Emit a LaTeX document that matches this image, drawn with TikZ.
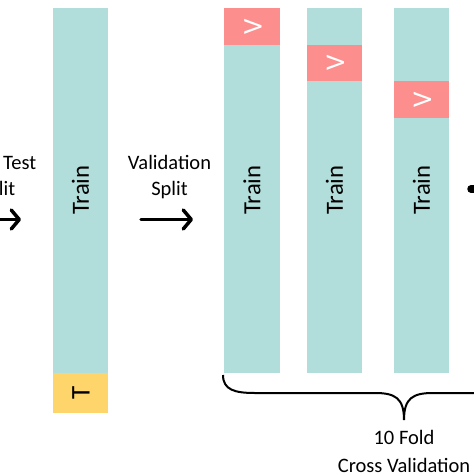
\documentclass[tikz,border=0pt]{standalone}
\usepackage{fontspec}
\setmainfont{Carlito}
\usetikzlibrary{arrows.meta}
\definecolor{tealbar}{RGB}{177,222,219}
\definecolor{valred}{RGB}{253,142,142}
\definecolor{testgold}{RGB}{254,213,106}
\begin{document}
\begin{tikzpicture}[x=1pt,y=-1pt,
  trainbar/.style={fill=tealbar},
  valbox/.style={fill=valred},
  testbox/.style={fill=testgold},
  trainlbl/.style={rotate=90,inner sep=0pt,font=\fontsize{24.7}{30}\selectfont},
  vallbl/.style={rotate=90,inner sep=0pt,text=white,font=\fontsize{27}{30}\selectfont},
  testlbl/.style={rotate=90,inner sep=0pt,text=black,font=\fontsize{27}{30}\selectfont},
  steptext/.style={align=center,inner sep=0pt,font=\fontsize{20.5}{26}\selectfont},
  steparrow/.style={line width=3.5pt,line cap=round,-{Straight Barb[length=8pt,width=19pt,round]}},
  bracelbl/.style={align=center,inner sep=0pt,font=\fontsize{20.5}{28}\selectfont}]
\useasboundingbox (0,0) rectangle (474,474);
\clip (0,0) rectangle (474,474);
\fill[white] (0,0) rectangle (474,474);

% column 1: train + test
\fill[trainbar] (53,8) rectangle (108,373);
\fill[testbox] (53,373) rectangle (108,413);
\node[trainlbl] (train0) at (80.5,190) {Train};
\node[testlbl] (test0) at (81,393) {T};

% folds
\fill[trainbar] (224,8) rectangle (280,373);
\fill[valbox] (224,8) rectangle (280,44.5);
\node[trainlbl] (train1) at (252,190) {Train};
\node[vallbl] (val1) at (253,27) {V};

\fill[trainbar] (307,8) rectangle (362,373);
\fill[valbox] (307,44.5) rectangle (362,81);
\node[trainlbl] (train2) at (334.5,190) {Train};
\node[vallbl] (val2) at (335.5,63) {V};

\fill[trainbar] (394,8) rectangle (449,373);
\fill[valbox] (394,81) rectangle (449,118);
\node[trainlbl] (train3) at (421.5,190) {Train};
\node[vallbl] (val3) at (422.5,100) {V};

% step labels and arrows
\node[steptext] (tts) at (-3,177) {Train Test\\Split};
\coordinate (a0s) at (-31,219.5);
\coordinate (a0e) at (21,219.5);
\draw[steparrow] (a0s) -- (a0e);

\node[steptext] (vs) at (169.5,177) {Validation\\Split};
\coordinate (a1s) at (141,219.5);
\coordinate (a1e) at (193,219.5);
\draw[steparrow] (a1s) -- (a1e);

% partial element at right edge
\coordinate (r0) at (471,189);
\coordinate (r1) at (482,189);
\draw[line width=7.5pt,line cap=round] (r0) -- (r1);

% brace
\coordinate (bl) at (223,375);
\coordinate (bt) at (404,420);
\coordinate (br) at (585,375);
\draw[line width=2pt]
  (bl) .. controls (223,390) and (235,393) .. (255,393)
  -- (375,393) .. controls (395,393) and (404,398) .. (bt)
  .. controls (404,398) and (413,393) .. (433,393)
  -- (553,393) .. controls (573,393) and (585,390) .. (br);
\node[bracelbl,anchor=north] (cv) at (404,430) {10 Fold\\Cross Validation};
\end{tikzpicture}
\end{document}
